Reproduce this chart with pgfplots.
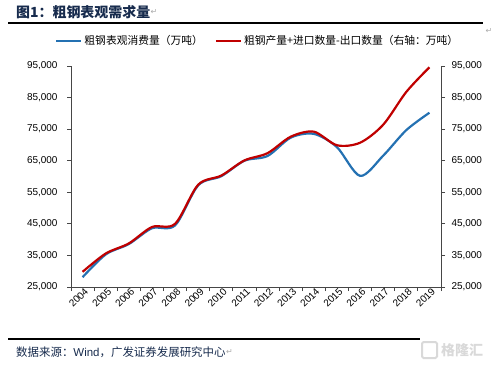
\documentclass[border=0pt]{standalone}
\usepackage{pgfplots}
\pgfplotsset{compat=1.18}
\usepackage{fontspec}
\setmainfont{Liberation Sans}
\newfontfamily\cjk{Noto Sans CJK SC}
\newfontfamily\dejavu{DejaVu Sans}
\definecolor{excelblue}{RGB}{36,113,178}
\definecolor{excelred}{RGB}{192,0,0}
\definecolor{titlenavy}{RGB}{23,43,77}
\definecolor{axisgray}{RGB}{70,70,70}
\definecolor{markgray}{RGB}{170,170,170}
\pgfplotsset{
  common/.style={
    scale only axis, width=370bp, height=221bp,
    xmin=-0.5, xmax=15.5, ymin=25000, ymax=95000,
    ytick={25000,35000,...,95000},
    scaled y ticks=false,
    tick align=outside,
    axis line style={axisgray, line width=0.8bp},
    major tick length=4bp,
    tick style={axisgray, line width=0.8bp},
    yticklabel style={/pgf/number format/fixed, /pgf/number format/1000 sep={,}, /pgf/number format/assume math mode=true},
    tick label style={font=\fontsize{10}{12}\selectfont},
  }
}
\begin{document}
\begin{tikzpicture}
\useasboundingbox (0bp,0bp) rectangle (494bp,-365bp);
\begin{axis}[common,
  at={(71bp,-287bp)}, anchor=south west,
  axis x line*=bottom, axis y line*=left,
  yticklabel style={xshift=-6bp},
  xtick={-0.5,0.5,...,15.5}, xticklabels={},
  extra x ticks={0,1,...,15},
  extra x tick labels={2004,2005,2006,2007,2008,2009,2010,2011,2012,2013,2014,2015,2016,2017,2018,2019},
  extra x tick style={major tick length=0pt, xticklabel style={rotate=45, anchor=north east, inner sep=1bp, xshift=2bp}},
  legend columns=2,
  legend style={at={(axis description cs:-0.043,1.113)}, anchor=west, draw=none, fill=none, inner sep=0pt,
    font=\cjk\fontsize{10.8}{12}\selectfont,
    /tikz/every even column/.append style={column sep=10bp}},
  legend image code/.code={\draw[#1] (0bp,0bp) -- (25bp,0bp);},
]
\addplot[excelblue, line width=2.2bp, smooth, tension=0.5] coordinates {
(0,28100) (1,35300) (2,38600) (3,43600) (4,44500) (5,57200) (6,60100) (7,65000)
(8,66500) (9,72300) (10,73500) (11,69300) (12,60200) (13,66600) (14,74700) (15,80200)};
\addlegendentry{粗钢表观消费量（万吨）}
\addlegendimage{excelred, line width=2.2bp}
\addlegendentry{粗钢产量+进口数量-出口数量（右轴：万吨）}
\end{axis}
\begin{axis}[common,
  at={(71bp,-287bp)}, anchor=south west,
  axis x line=none, axis y line*=right,
  ytick pos=right, yticklabel pos=right,
  yticklabel style={xshift=3bp},
]
\addplot[excelred, line width=2.2bp, smooth, tension=0.5] coordinates {
(0,29800) (1,35600) (2,38800) (3,44000) (4,45000) (5,57400) (6,60300) (7,65100)
(8,67400) (9,72600) (10,74200) (11,69900) (12,70700) (13,76400) (14,86800) (15,94600)};
\end{axis}
\node[anchor=west, inner sep=0pt, text=titlenavy, font=\cjk\bfseries\fontsize{14}{16}\selectfont] (ttl) at (16bp,-12bp) {图1：粗钢表观需求量};
\node[anchor=west, inner sep=0pt, text=markgray, font=\dejavu\fontsize{8}{9}\selectfont] at (ttl.east) {↵};
\draw[black, line width=1.2bp] (8bp,-23bp) -- (483bp,-23bp);
\node[text=markgray, font=\dejavu\fontsize{8}{9}\selectfont, inner sep=0pt] at (489bp,-31bp) {↵};
\draw[black, line width=1.2bp] (8bp,-339bp) -- (420bp,-339bp);
\node[anchor=west, inner sep=0pt, text=titlenavy, font=\cjk\fontsize{11.5}{13}\selectfont] (src) at (16bp,-352bp) {数据来源：{\rmfamily Wind}，广发证券发展研究中心};
\node[anchor=west, inner sep=0pt, text=markgray, font=\dejavu\fontsize{8}{9}\selectfont] at (src.east) {↵};
\node[anchor=west, inner sep=0pt, text=black!15, font=\cjk\bfseries\fontsize{14}{16}\selectfont] at (441bp,-350bp) {格隆汇};
\draw[black!15, line width=2bp, rounded corners=1.5bp] (422bp,-342bp) rectangle (437bp,-358bp);
\end{tikzpicture}
\end{document}
